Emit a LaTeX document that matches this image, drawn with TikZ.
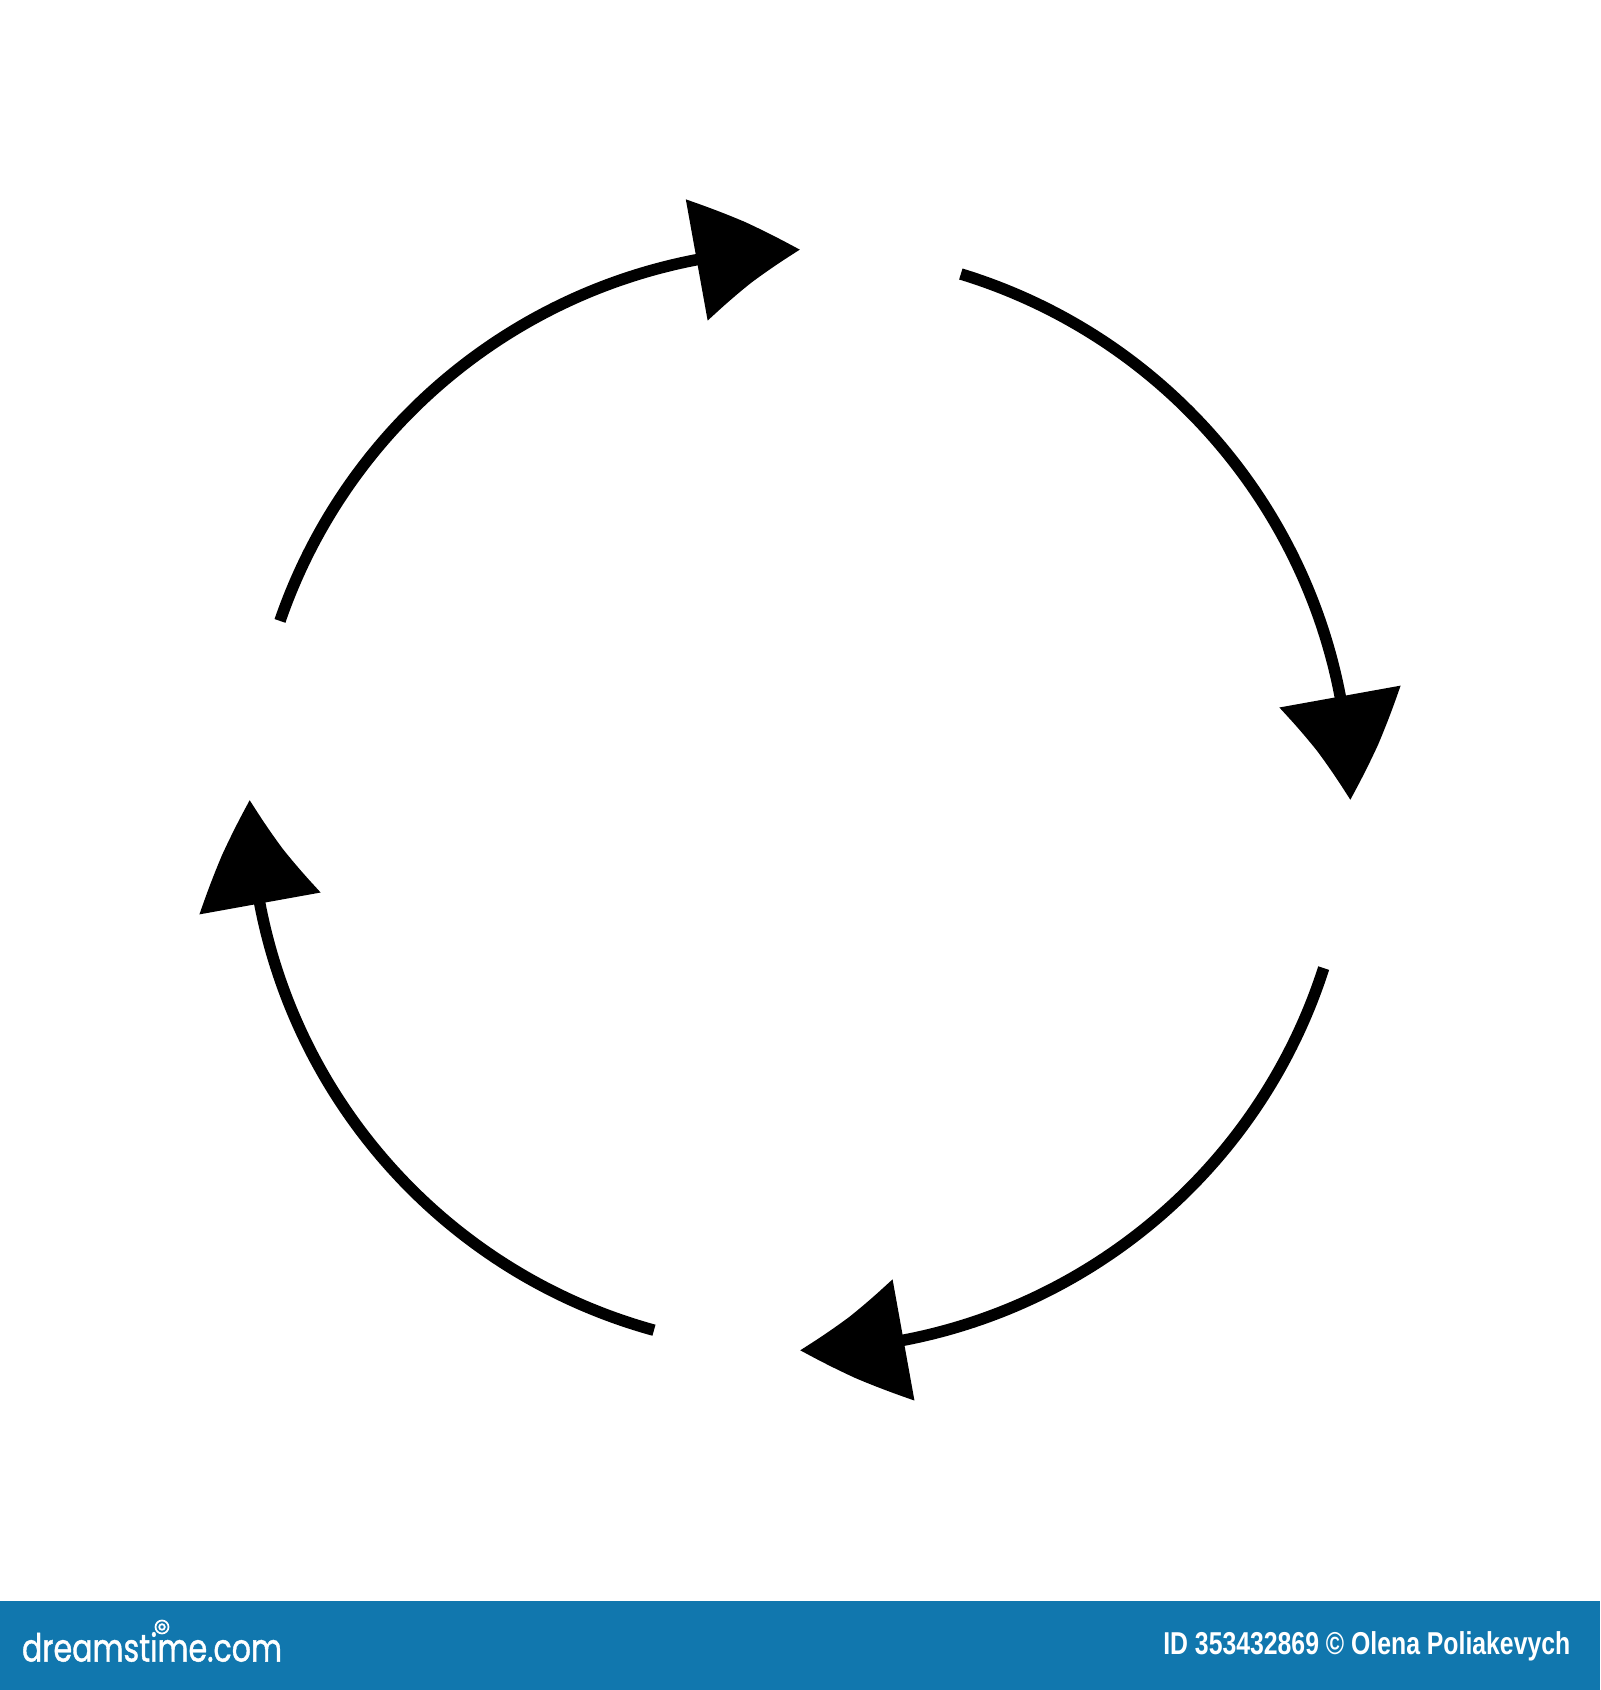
\documentclass[tikz,border=0pt]{standalone}
\usepackage{fontspec}
\usetikzlibrary{arrows.meta,bending}
\newfontfamily\footfont{Liberation Sans}
\newfontfamily\logofont[FakeBold=1.2]{Poppins}
\definecolor{footblue}{RGB}{17,119,174}
\tikzset{cyclearrow/.style={line width=0.115cm,-{Triangle[length=1.05cm,width=1.2cm,bend]}}}

\begin{document}
\begin{tikzpicture}
\useasboundingbox (0,0) rectangle (16,16.9);
\fill[white] (0,0) rectangle (16,16.9);
\coordinate (c) at (8,8.9);
\draw[cyclearrow] ([shift={(161:5.5)}]c) arc[start angle=161,end angle=90,radius=5.5];
\draw[cyclearrow] ([shift={(73:5.5)}]c) arc[start angle=73,end angle=0,radius=5.5];
\draw[cyclearrow] ([shift={(-17.8:5.5)}]c) arc[start angle=-17.8,end angle=-90,radius=5.5];
\draw[cyclearrow] ([shift={(254.6:5.5)}]c) arc[start angle=254.6,end angle=180,radius=5.5];
\fill[footblue] (0,0) rectangle (16,0.89);
\node[white,inner sep=0pt] (logo) at (1.52,0.43) {\resizebox{2.6cm}{\height}{\logofont\fontsize{11}{13}\selectfont dreamstime.com}};
\draw[white,line width=0.5pt] (1.62,0.63) circle (0.065) (1.62,0.63) circle (0.028);
\node[white,inner sep=0pt,anchor=east] (credit) at (15.71,0.44) {\resizebox{4.07cm}{\height}{\footfont\bfseries\fontsize{9}{11}\selectfont ID 353432869 © Olena Poliakevych}};
\end{tikzpicture}
\end{document}
